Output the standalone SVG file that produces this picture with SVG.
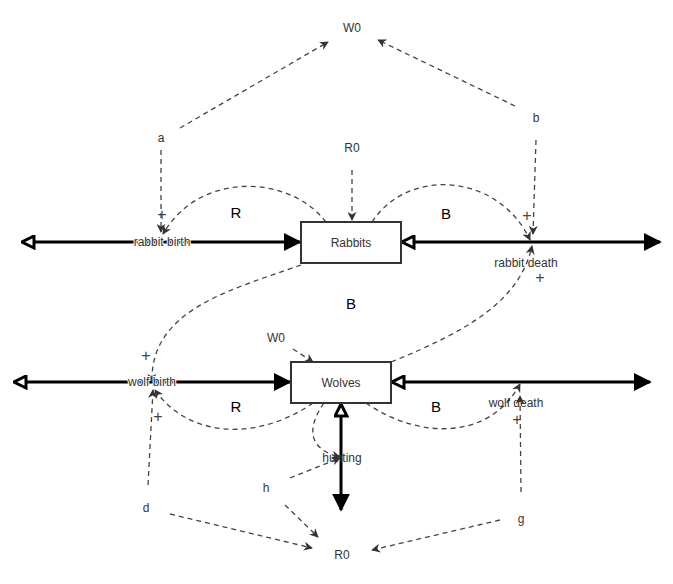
<svg xmlns="http://www.w3.org/2000/svg" width="673" height="584" viewBox="0 0 673 584">
<style>
text{font-family:"Liberation Sans",Arial,sans-serif;font-size:12px;fill:#333;text-anchor:middle;dominant-baseline:central}
.big{font-size:15px;fill:#000}
.flow{stroke:#000;stroke-width:3;fill:none}
.dash{stroke:#444;stroke-width:1.3;stroke-dasharray:5 4;fill:none;marker-end:url(#ah)}
.box{fill:#fff;stroke:#333;stroke-width:2}
.plus{font-size:16px;fill:#444}
</style>
<defs>
<marker id="ah" viewBox="0 0 10 10" refX="9" refY="5" markerWidth="9" markerHeight="9" orient="auto" markerUnits="userSpaceOnUse"><path d="M0,0 L10,5 L0,10 L3,5 Z" fill="#333"/></marker>
<marker id="fa" viewBox="0 0 10 10" refX="9" refY="5" markerWidth="6" markerHeight="6" orient="auto-start-reverse"><path d="M0,0 L10,5 L0,10 Z" fill="#000"/></marker>
<marker id="oa" viewBox="0 0 10 10" refX="9" refY="5" markerWidth="5" markerHeight="5" orient="auto-start-reverse"><path d="M1,1 L9,5 L1,9 Z" fill="#fff" stroke="#000" stroke-width="2"/></marker>
</defs>
<g id="connectors">
<path class="flow" d="M300,242 L22,242" marker-start="url(#fa)" marker-end="url(#oa)"/>
<path class="flow" d="M402,242 L660,242" marker-start="url(#oa)" marker-end="url(#fa)"/>
<path class="flow" d="M290,382 L14,382" marker-start="url(#fa)" marker-end="url(#oa)"/>
<path class="flow" d="M392,382 L650,382" marker-start="url(#oa)" marker-end="url(#fa)"/>
<path class="flow" d="M341,404 L341,510" marker-start="url(#oa)" marker-end="url(#fa)"/>
<path class="dash" d="M180,128 L328,42"/>
<path class="dash" d="M515,106 L378,40"/>
<path class="dash" d="M161,150 L161,232"/>
<path class="dash" d="M352,170 L352,220"/>
<path class="dash" d="M536,140 L533,234"/>
<path class="dash" d="M326,222 C290,175 200,170 163,234"/>
<path class="dash" d="M372,222 C410,165 500,175 530,240"/>
<path class="dash" d="M301,265 C230,290 150,310 152,382"/>
<path class="dash" d="M391,362 C470,330 520,300 532,246"/>
<path class="dash" d="M293,349 L313,362"/>
<path class="dash" d="M313,403 C260,440 190,440 155,390"/>
<path class="dash" d="M366,403 C420,440 490,440 520,384"/>
<path class="dash" d="M324,403 C305,430 310,450 340,457"/>
<path class="dash" d="M148,485 L153,390"/>
<path class="dash" d="M521,492 L520,396"/>
<path class="dash" d="M290,478 L340,458"/>
<path class="dash" d="M285,505 L318,537"/>
<path class="dash" d="M170,514 L312,548"/>
<path class="dash" d="M500,520 L372,550"/>
</g>
<g id="Rabbits"><rect class="box" x="301" y="222" width="100" height="41"/><text x="351" y="243">Rabbits</text></g>
<g id="Wolves"><rect class="box" x="291" y="362" width="100" height="41"/><text x="341" y="383">Wolves</text></g>
<g id="rabbit-birth"><text x="162" y="242" style="paint-order:stroke;stroke:#fff;stroke-width:2">rabbit birth</text></g>
<g id="rabbit-death"><text x="526" y="263">rabbit death</text></g>
<g id="wolf-birth"><text x="152" y="382" style="paint-order:stroke;stroke:#fff;stroke-width:2">wolf birth</text></g>
<g id="wolf-death"><text x="516" y="403">wolf death</text></g>
<g id="hunting"><text x="342" y="458">hunting</text></g>
<g id="labels">
<text x="352" y="28">W0</text>
<text x="536" y="118">b</text>
<text x="161" y="138">a</text>
<text x="352" y="148">R0</text>
<text x="276" y="338">W0</text>
<text x="266" y="488">h</text>
<text x="146" y="508">d</text>
<text x="521" y="519">g</text>
<text x="342" y="555">R0</text>
<text class="big" x="236" y="212">R</text>
<text class="big" x="446" y="213">B</text>
<text class="big" x="351" y="303">B</text>
<text class="big" x="236" y="406">R</text>
<text class="big" x="436" y="406">B</text>
<text class="plus" x="162" y="214">+</text>
<text class="plus" x="527" y="215">+</text>
<text class="plus" x="540" y="277">+</text>
<text class="plus" x="146" y="355">+</text>
<text class="plus" x="158" y="416">+</text>
<text class="plus" x="517" y="419">+</text>
</g>
</svg>
